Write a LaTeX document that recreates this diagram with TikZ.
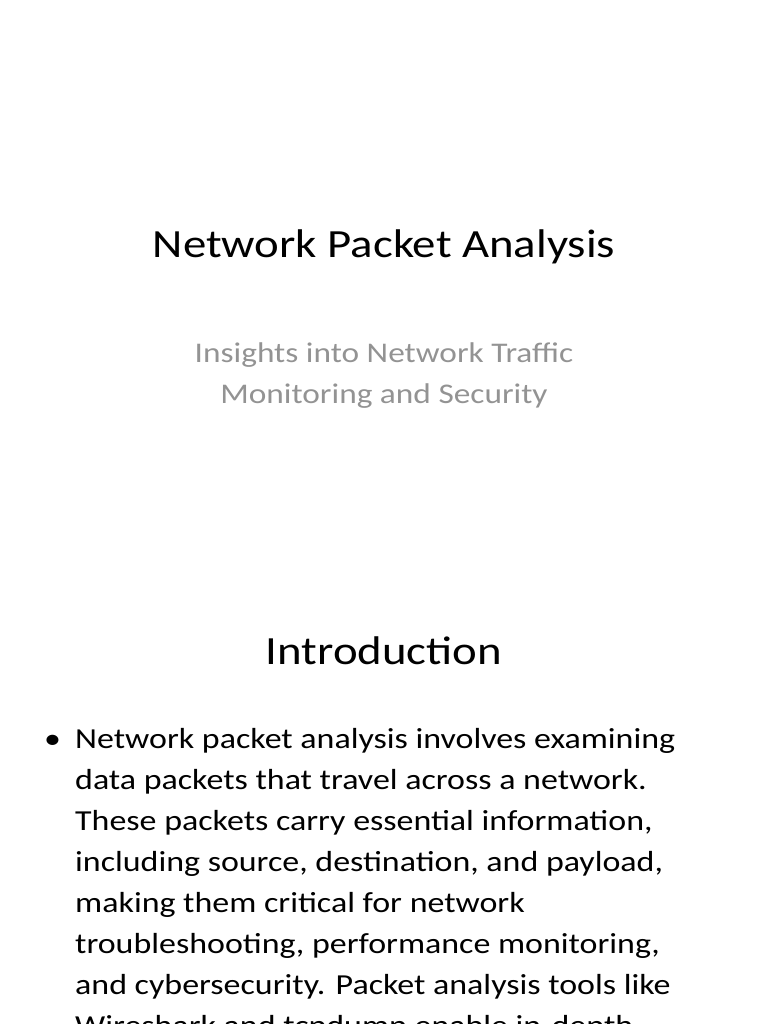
\documentclass[tikz,border=0pt]{standalone}
\usepackage{fontspec}
\setmainfont{Carlito}[FakeStretch=1.17]
\begin{document}
\begin{tikzpicture}[x=1pt,y=1pt,
  title/.style={anchor=base,font=\fontsize{40}{48}\selectfont},
  sub/.style={anchor=base,font=\fontsize{28.5}{34}\selectfont,text=gray!85},
  body/.style={anchor=base west,font=\fontsize{29}{35}\selectfont,inner sep=0pt}]
\useasboundingbox (0,0) rectangle (768,-1024);
\clip (0,0) rectangle (768,-1024);
\node[title] (t) at (384,-258) {Network Packet Analysis};
\node[sub] (s1) at (384,-362) {Insights into Network Traffic};
\node[sub] (s2) at (384,-403) {Monitoring and Security};
\node[title] (i) at (384,-664) {Introduction};
\node[body] (b) at (44,-748) {•};
\foreach \t [count=\k from 0] in {
 {Network packet analysis involves examining},
 {data packets that travel across a network.},
 {These packets carry essential information,},
 {including source, destination, and payload,},
 {making them critical for network},
 {troubleshooting, performance monitoring,},
 {and cybersecurity. Packet analysis tools like},
 {Wireshark and tcpdump enable in-depth}}
 \node[body] (l\k) at (75,-748-41*\k) {\t};
\end{tikzpicture}
\end{document}
